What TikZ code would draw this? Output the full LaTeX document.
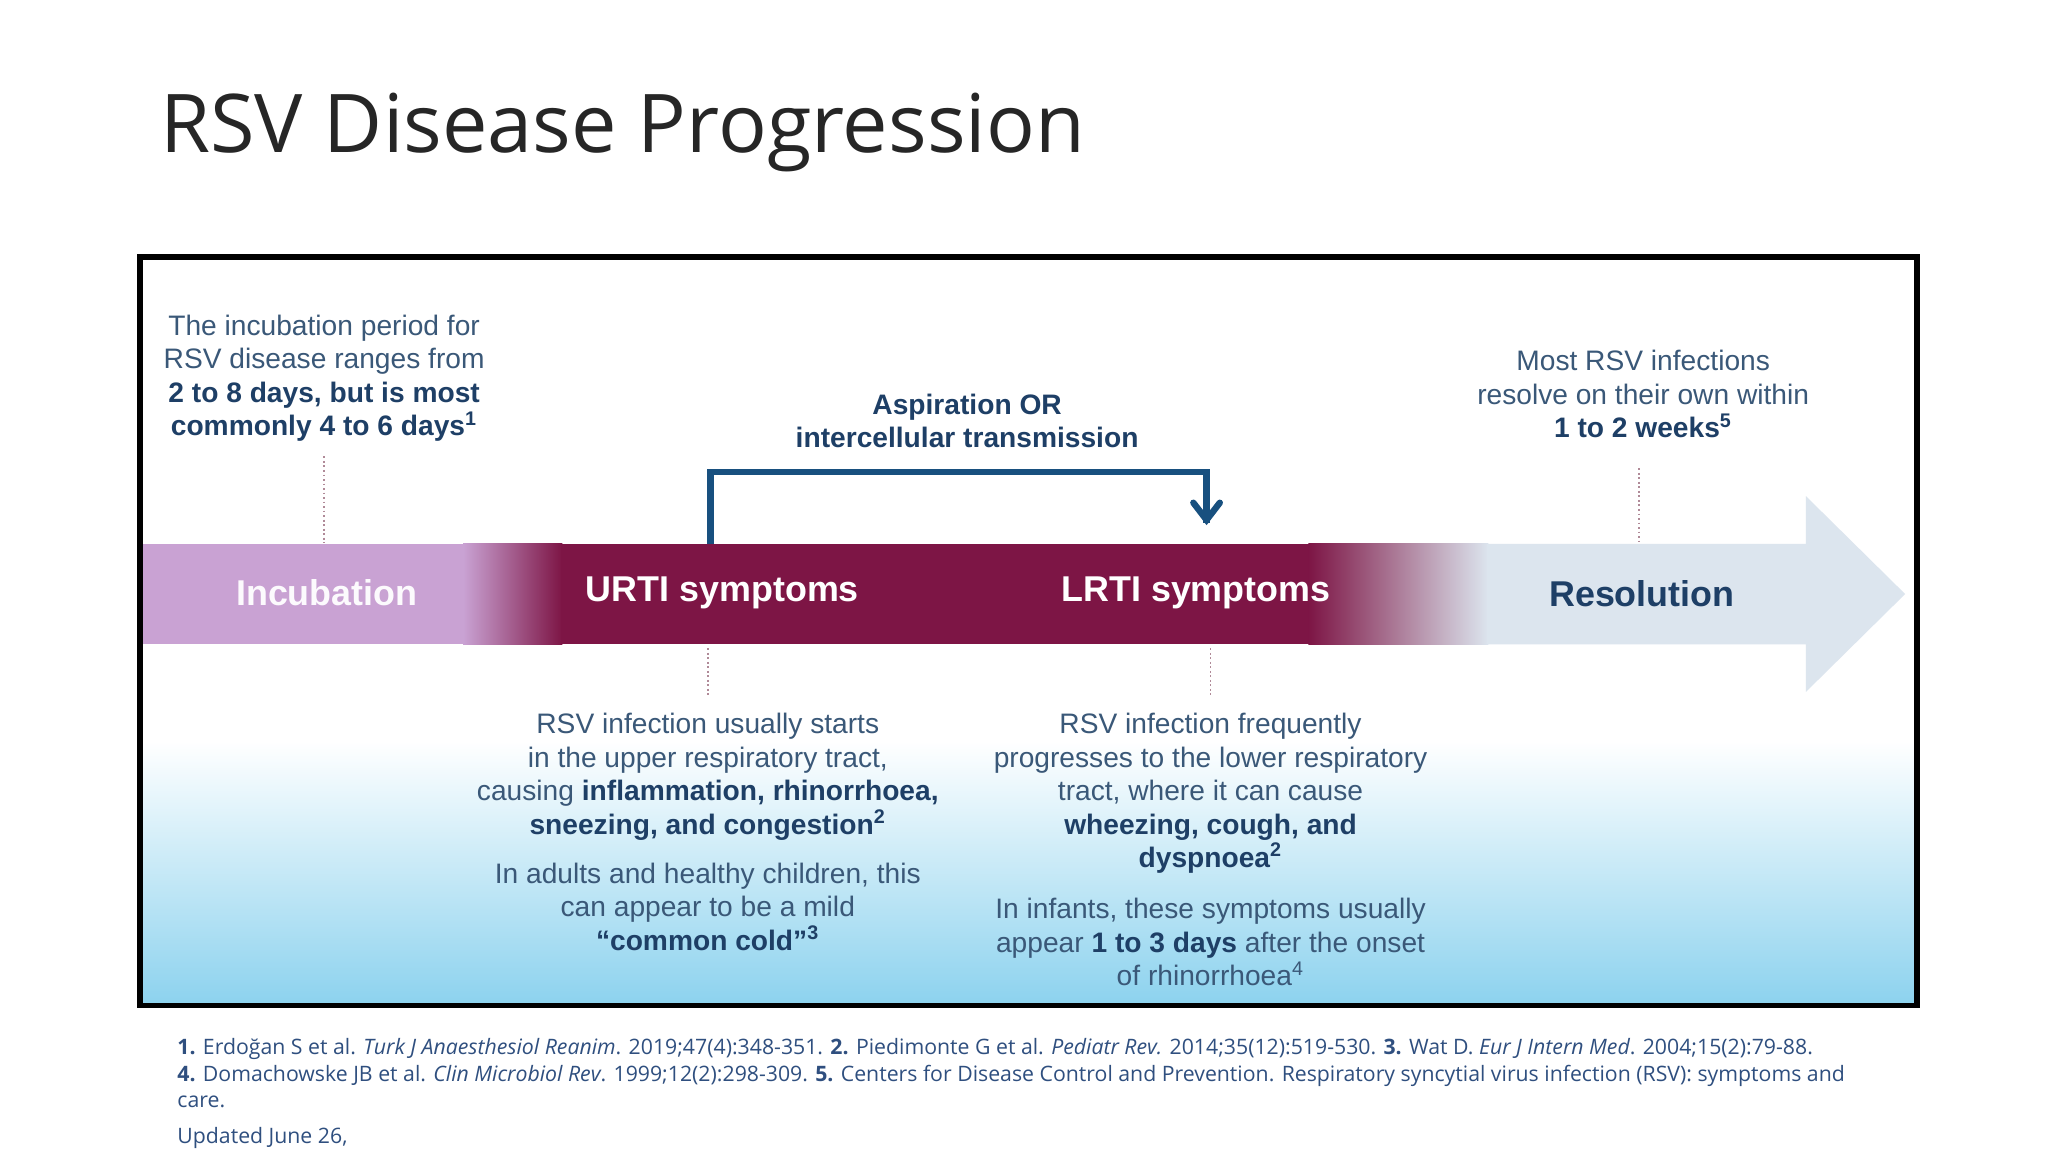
\documentclass[tikz,border=0pt]{standalone}
\usepackage{fontspec}
\setmainfont{Open Sans}
\newfontfamily\arial{Liberation Sans}
\definecolor{txt}{HTML}{3A5878}
\definecolor{btxt}{HTML}{1E3F66}
\definecolor{maroon}{HTML}{7D1545}
\definecolor{lilac}{HTML}{C9A2D3}
\definecolor{pale}{HTML}{DCE5EE}
\definecolor{cyanb}{HTML}{8CD2EE}
\definecolor{brk}{HTML}{18507F}
\definecolor{dotc}{HTML}{B08A98}
\definecolor{foot}{HTML}{2F4F7F}
\tikzset{body/.style={font=\arial\fontsize{10.6}{12.6}\selectfont,text=txt,align=center},
 band/.style={font=\arial\bfseries\fontsize{13.5}{16}\selectfont},
 dotl/.style={dotc,densely dotted,line width=0.7pt}}
\begin{document}
\begin{tikzpicture}[x=0.0175cm,y=-0.0175cm]
\useasboundingbox (0,0) rectangle (1548,871);
\fill[white] (0,0) rectangle (1548,871);
% bottom gradient
\shade[top color=white,bottom color=cyanb] (106,560) rectangle (1449,760);
% band
\fill[lilac] (106,411) rectangle (350,487);
\shade[left color=lilac,right color=maroon] (350,411) rectangle (425,487);
\fill[maroon] (424,411) rectangle (990,487);
\shade[left color=maroon,right color=pale] (989,411) rectangle (1125,487);
\fill[pale] (1124,411) -- (1365,411) -- (1365,375) -- (1440,449) -- (1365,523) -- (1365,487) -- (1124,487) -- cycle;
\node[band,text=white!95!lilac] (inc) at (247,448) {Incubation};
\node[band,text=white] (urti) at (546,448) {URTI symptoms};
\node[band,text=white] (lrti) at (904,448) {LRTI symptoms};
\node[band,text=btxt] (res) at (1241,449) {Resolution};
% frame
\draw[line width=2.2pt] (106,194) rectangle (1449,760);
% title
\node[anchor=west,font=\fontsize{30.5}{38}\selectfont,text=black!85] (title) at (114,100) {RSV Disease Progression};
% texts
\node[body] (t1) at (245,286) {The incubation period for\\RSV disease ranges from\\\textcolor{btxt}{\bfseries 2 to 8 days, but is most}\\\textcolor{btxt}{\bfseries commonly 4 to 6 days\textsuperscript{1}}};
\node[body,text=btxt,font=\arial\bfseries\fontsize{10.6}{12.6}\selectfont] (asp) at (731,318) {Aspiration OR\\intercellular transmission};
\node[body] (t5) at (1242,298) {Most RSV infections\\resolve on their own within\\\textcolor{btxt}{\bfseries 1 to 2 weeks\textsuperscript{5}}};
\node[body,anchor=north] (t2) at (535,532) {RSV infection usually starts\\in the upper respiratory tract,\\causing \textcolor{btxt}{\bfseries inflammation, rhinorrhoea,}\\\textcolor{btxt}{\bfseries sneezing, and congestion\textsuperscript{2}}};
\node[body,anchor=north] (t3) at (535,645) {In adults and healthy children, this\\can appear to be a mild\\\textcolor{btxt}{\bfseries “common cold”\textsuperscript{3}}};
\node[body,anchor=north] (t4) at (915,532) {RSV infection frequently\\progresses to the lower respiratory\\tract, where it can cause\\\textcolor{btxt}{\bfseries wheezing, cough, and}\\\textcolor{btxt}{\bfseries dyspnoea\textsuperscript{2}}};
\node[body,anchor=north] (t6) at (915,672) {In infants, these symptoms usually\\appear \textcolor{btxt}{\bfseries 1 to 3 days} after the onset\\of rhinorrhoea\textsuperscript{4}};
% dotted lines
\coordinate (d1a) at (245,345); \coordinate (d1b) at (245,410);
\coordinate (d2a) at (535,490); \coordinate (d2b) at (535,525);
\coordinate (d3a) at (915,490); \coordinate (d3b) at (915,525);
\coordinate (d4a) at (1239,354); \coordinate (d4b) at (1239,410);
\draw[dotl] (d1a)--(d1b); \draw[dotl] (d2a)--(d2b);
\draw[dotl] (d3a)--(d3b); \draw[dotl] (d4a)--(d4b);
% bracket
\coordinate (b1) at (537,411); \coordinate (b2) at (912,395);
\draw[brk,line width=2.4pt] (b1) |- (912,357) -- (b2);
\draw[brk,line width=2.4pt,line cap=round] (902,380) -- (912,393) -- (922,380);
% footnotes
\node[anchor=north west,align=left,font=\fontsize{8}{9.9}\selectfont,text=foot] (fn) at (127,778) {\textbf{1.} Erdoğan S et al. \textit{Turk J Anaesthesiol Reanim}. 2019;47(4):348-351. \textbf{2.} Piedimonte G et al. \textit{Pediatr Rev.} 2014;35(12):519-530. \textbf{3.} Wat D. \textit{Eur J Intern Med}. 2004;15(2):79-88.\\\textbf{4.} Domachowske JB et al. \textit{Clin Microbiol Rev}. 1999;12(2):298-309. \textbf{5.} Centers for Disease Control and Prevention. Respiratory syncytial virus infection (RSV): symptoms and\\care.};
\node[anchor=west,font=\fontsize{8}{9.9}\selectfont,text=foot] (upd) at (127,860) {Updated June 26,};
\end{tikzpicture}
\end{document}
